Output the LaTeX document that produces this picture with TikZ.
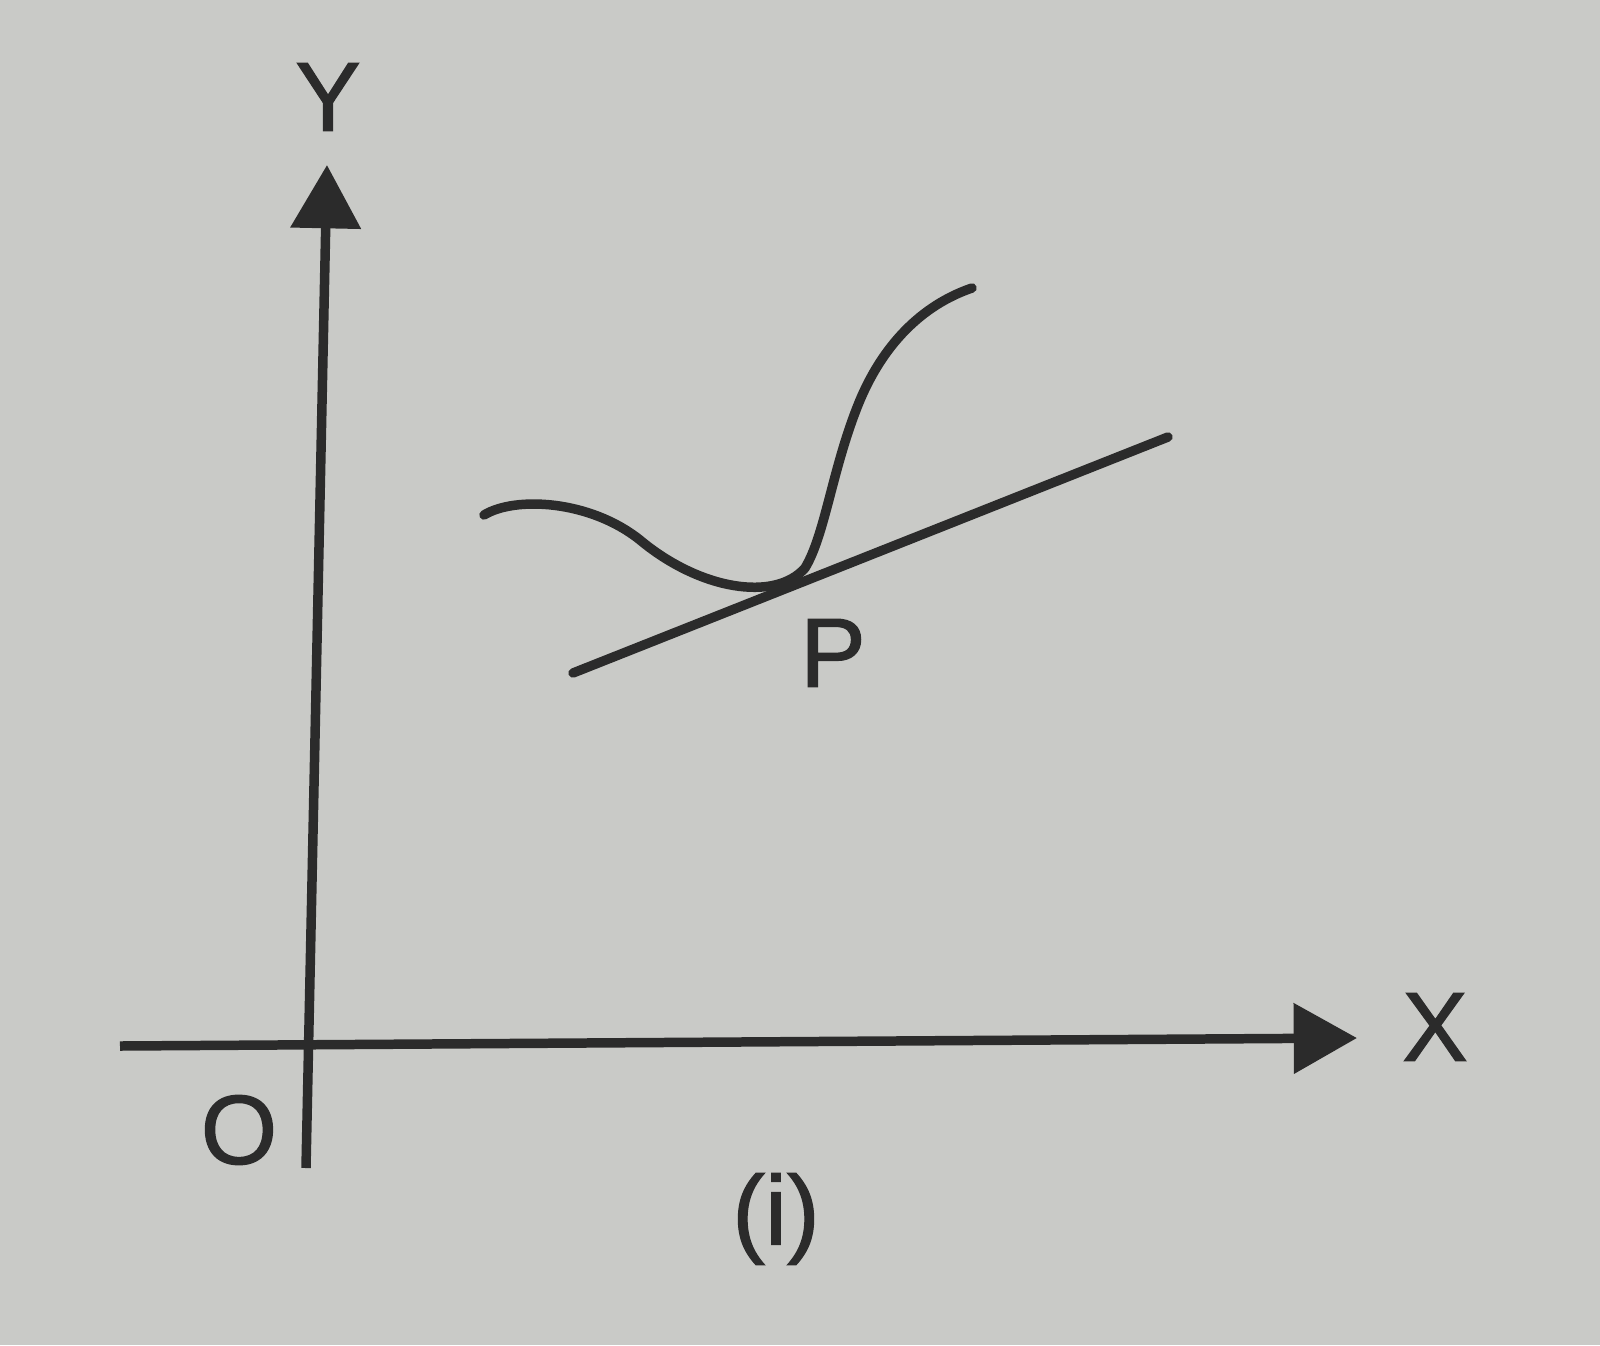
\documentclass[tikz,border=0pt]{standalone}
\usepackage{fontspec}
\setmainfont{Liberation Sans}
\newfontfamily\lblfont{Liberation Sans}[FakeBold=1.2]
\usetikzlibrary{arrows.meta}
\definecolor{paper}{HTML}{C9CAC7}
\definecolor{ink}{HTML}{2B2B2B}
\tikzset{
  axis/.style={ink, line width=2.7pt, -{Triangle[length=18pt,width=19.5pt]}},
  curveline/.style={ink, line width=2.7pt, line cap=round},
  lbl/.style={ink, font=\lblfont\fontsize{28}{32}\selectfont, inner sep=0pt}
}
\begin{document}
\begin{tikzpicture}[x=0.01cm, y=-0.01cm]
  \fill[paper] (0,0) rectangle (1600,1345);
  \useasboundingbox (0,0) rectangle (1600,1345);
  % axes
  \coordinate (yb) at (306,1168);
  \coordinate (yt) at (327,165);
  \coordinate (xl) at (120,1046);
  \coordinate (xr) at (1357,1038);
  \draw[axis] (yb) -- (yt);
  \draw[axis] (xl) -- (xr);
  % tangent line
  \coordinate (ta) at (573,673);
  \coordinate (tb) at (1168,437);
  \draw[curveline] (ta) -- (tb);
  % curve
  \coordinate (c0) at (484,515);
  \coordinate (c1) at (640,540);
  \coordinate (c2) at (805,568);
  \coordinate (c3) at (858,405);
  \coordinate (c4) at (972,288);
  \draw[curveline] (c0) .. controls (515,496) and (590,500) .. (c1)
    .. controls (700,590) and (775,602) .. (c2)
    .. controls (825,535) and (832,470) .. (c3)
    .. controls (882,345) and (922,305) .. (c4);
  % labels
  \node[lbl] (Ylab) at (328,97) {Y};
  \node[lbl] (Xlab) at (1435,1027) {X};
  \node[lbl] (Olab) at (239,1130) {O};
  \node[lbl] (Plab) at (833,653) {P};
  \node[lbl] (cap) at (776,1219) {(i)};
\end{tikzpicture}
\end{document}
